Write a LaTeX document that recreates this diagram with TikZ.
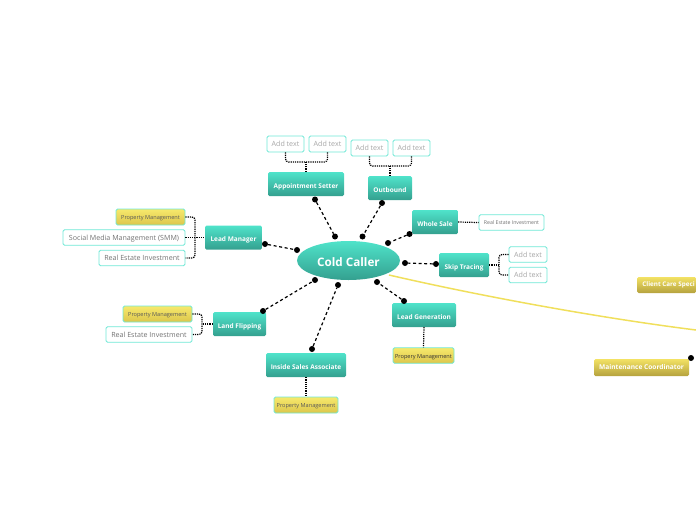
\documentclass[tikz,border=0pt]{standalone}
\usepackage{fontspec}
\setmainfont{Open Sans}
\usepackage{tikz}
\usetikzlibrary{shapes.geometric}
\definecolor{tealtop}{HTML}{4FE3CA}
\definecolor{tealbot}{HTML}{34A08F}
\definecolor{tealedge}{HTML}{6FE8D6}
\definecolor{goldtop}{HTML}{F7E96C}
\definecolor{goldbot}{HTML}{DCC64C}
\definecolor{olivetop}{HTML}{F3E264}
\definecolor{olivebot}{HTML}{B5A23E}
\definecolor{curveyellow}{HTML}{F0DF5C}
\tikzstyle{topic} = [rectangle,rounded corners=1.5pt,inner sep=0pt,top color=tealtop,bottom color=tealbot,text=white,text height=9pt,text depth=1pt,font=\bfseries\fontsize{6.5}{7}\selectfont]
\tikzstyle{subtopic} = [rectangle,rounded corners=1.5pt,inner sep=0pt,top color=olivetop,bottom color=olivebot,text=white,font=\bfseries\fontsize{6.6}{7}\selectfont]
\tikzstyle{note} = [rectangle,rounded corners=1.5pt,inner sep=0pt,draw=tealedge,line width=0.9pt,fill=white,text=black!55,text height=6pt,text depth=1pt,font=\fontsize{7.1}{8}\selectfont]
\tikzstyle{addtext} = [note,text=black!35]
\tikzstyle{tag} = [rectangle,rounded corners=1.5pt,inner sep=0pt,draw=tealedge,line width=0.9pt,top color=goldtop,bottom color=goldbot,text=black!65,text height=5.5pt,text depth=0.5pt,font=\fontsize{5.6}{6}\selectfont]
\tikzstyle{dotnode} = [circle,fill=black,inner sep=0pt,minimum size=6pt]
\tikzstyle{link} = [line width=1.2pt,dash pattern=on 3pt off 2.6pt]
\tikzstyle{fork} = [line width=1.2pt,dash pattern=on 1.2pt off 1pt,rounded corners=3pt]

\begin{document}
\begin{tikzpicture}[x=1pt,y=-1pt]
	\useasboundingbox (0,0) rectangle (696,520);

	% yellow branch runs off the page
	\coordinate (curvestart) at (389,275);
	\coordinate (curveend) at (696,330);
	\draw[curveyellow,line width=1.5pt] (curvestart) .. controls (480,296) and (600,318) .. (curveend);

	\node[topic,ellipse,minimum width=103pt,minimum height=39pt,text height=12pt,text depth=0pt,font=\bfseries\fontsize{11.7}{13}\selectfont] (cold) at (348.5,260.5) {Cold Caller};

	\node[topic,minimum width=76pt,minimum height=24pt] (setter) at (306,184) {Appointment Setter};
	\node[topic,minimum width=44pt,minimum height=24pt] (outbound) at (390,188) {Outbound};
	\node[topic,minimum width=46pt,minimum height=24pt] (wholesale) at (435,222) {Whole Sale};
	\node[topic,minimum width=50pt,minimum height=24pt] (skip) at (464,265) {Skip Tracing};
	\node[topic,minimum width=64pt,minimum height=24pt] (leadgen) at (424,315) {Lead Generation};
	\node[topic,minimum width=80pt,minimum height=24pt] (inside) at (306,365) {Inside Sales Associate};
	\node[topic,minimum width=53pt,minimum height=24pt] (flipping) at (239.5,324) {Land Flipping};
	\node[topic,minimum width=57pt,minimum height=24pt] (manager) at (233.5,237.5) {Lead Manager};

	\node[addtext,minimum width=37pt,minimum height=16pt] (setteradd1) at (285.5,144) {Add text};
	\node[addtext,minimum width=37pt,minimum height=16pt] (setteradd2) at (327.5,144) {Add text};
	\node[addtext,minimum width=37pt,minimum height=16pt] (outadd1) at (369.5,148) {Add text};
	\node[addtext,minimum width=37pt,minimum height=16pt] (outadd2) at (411.5,148) {Add text};
	\node[addtext,minimum width=38pt,minimum height=15.5pt] (skipadd1) at (528,254.5) {Add text};
	\node[addtext,minimum width=38pt,minimum height=15.5pt] (skipadd2) at (528,275) {Add text};

	\node[tag,minimum width=69pt,minimum height=16pt] (managerprop) at (150.5,217) {Property Management};
	\node[note,minimum width=122pt,minimum height=15.5pt] (managersmm) at (124,237.5) {Social Media Management (SMM)};
	\node[note,minimum width=86pt,minimum height=15.5pt] (managerreal) at (142,258) {Real Estate Investment};
	\node[tag,minimum width=69pt,minimum height=16pt] (flipprop) at (157.5,314) {Property Management};
	\node[note,minimum width=86pt,minimum height=15.5pt] (flipreal) at (149,334.5) {Real Estate Investment};
	\node[note,minimum width=65pt,minimum height=15.5pt,text height=5.5pt,text depth=1pt,font=\fontsize{5.2}{6}\selectfont] (salereal) at (511.5,222.5) {Real Estate Investment};
	\node[tag,minimum width=61pt,minimum height=15.5pt,text=black!80] (genprop) at (423.5,355.5) {Propery Management};
	\node[tag,minimum width=64pt,minimum height=16pt] (insideprop) at (306,405) {Property Management};

	\node[subtopic,minimum width=95pt,minimum height=17pt] (maintenance) at (641.5,367.5) {Maintenance Coordinator};
	\node[subtopic,minimum width=59pt,minimum height=16pt,font=\bfseries\fontsize{6.3}{7}\selectfont] (clientcare) at (666.5,285) {\hspace*{4pt}Client Care Speci};

	% dots at both ends of the main links
	\node[dotnode] (setterdot) at (315,199.5) {};
	\node[dotnode] (setterroot) at (335,236.5) {};
	\node[dotnode] (outdot) at (382,203) {};
	\node[dotnode] (outroot) at (362.5,236.5) {};
	\node[dotnode] (saledot) at (409.5,234) {};
	\node[dotnode] (saleroot) at (388,243) {};
	\node[dotnode] (skipdot) at (436,264) {};
	\node[dotnode] (skiproot) at (405,263) {};
	\node[dotnode] (gendot) at (404,301) {};
	\node[dotnode] (genroot) at (377,282) {};
	\node[dotnode] (insidedot) at (312,349) {};
	\node[dotnode] (insideroot) at (338,285) {};
	\node[dotnode] (flipdot) at (263,311) {};
	\node[dotnode] (fliproot) at (315,280) {};
	\node[dotnode] (managerdot) at (265,244) {};
	\node[dotnode] (managerroot) at (297,250) {};
	\node[dotnode] (maintdot) at (691,358) {};

	\draw[link] (setterdot) -- (setterroot);
	\draw[link] (outdot) -- (outroot);
	\draw[link] (saledot) -- (saleroot);
	\draw[link] (skipdot) -- (skiproot);
	\draw[link] (gendot) -- (genroot);
	\draw[link] (insidedot) -- (insideroot);
	\draw[link] (flipdot) -- (fliproot);
	\draw[link] (managerdot) -- (managerroot);

	% forks to the small boxes
	\coordinate (setterfork) at (306,162);
	\draw[fork] (setteradd1.south) |- (setterfork) -| (setteradd2.south);
	\draw[fork,rounded corners=0pt] (setter.north) -- (setterfork);
	\coordinate (outfork) at (390,166);
	\draw[fork] (outadd1.south) |- (outfork) -| (outadd2.south);
	\draw[fork,rounded corners=0pt] (outbound.north) -- (outfork);
	\coordinate (skipfork) at (499,265);
	\draw[fork] (skipadd1.west) -| (skipfork) |- (skipadd2.west);
	\draw[fork,rounded corners=0pt] (skip.east) -- (skipfork);
	\coordinate (managerfork) at (195,237.5);
	\draw[fork] (managerprop.east) -| (managerfork) |- (managerreal.east);
	\draw[fork,rounded corners=0pt] (managersmm.east) -- (manager.west);
	\coordinate (flipfork) at (202,324);
	\draw[fork] (flipprop.east) -| (flipfork) |- (flipreal.east);
	\draw[fork,rounded corners=0pt] (flipping.west) -- (flipfork);
	\draw[fork,rounded corners=0pt] (wholesale.east) -- (salereal.west);
	\draw[fork,rounded corners=0pt] (leadgen.south) -- (genprop.north);
	\draw[fork,rounded corners=0pt] (inside.south) -- (insideprop.north);
\end{tikzpicture}
\end{document}
